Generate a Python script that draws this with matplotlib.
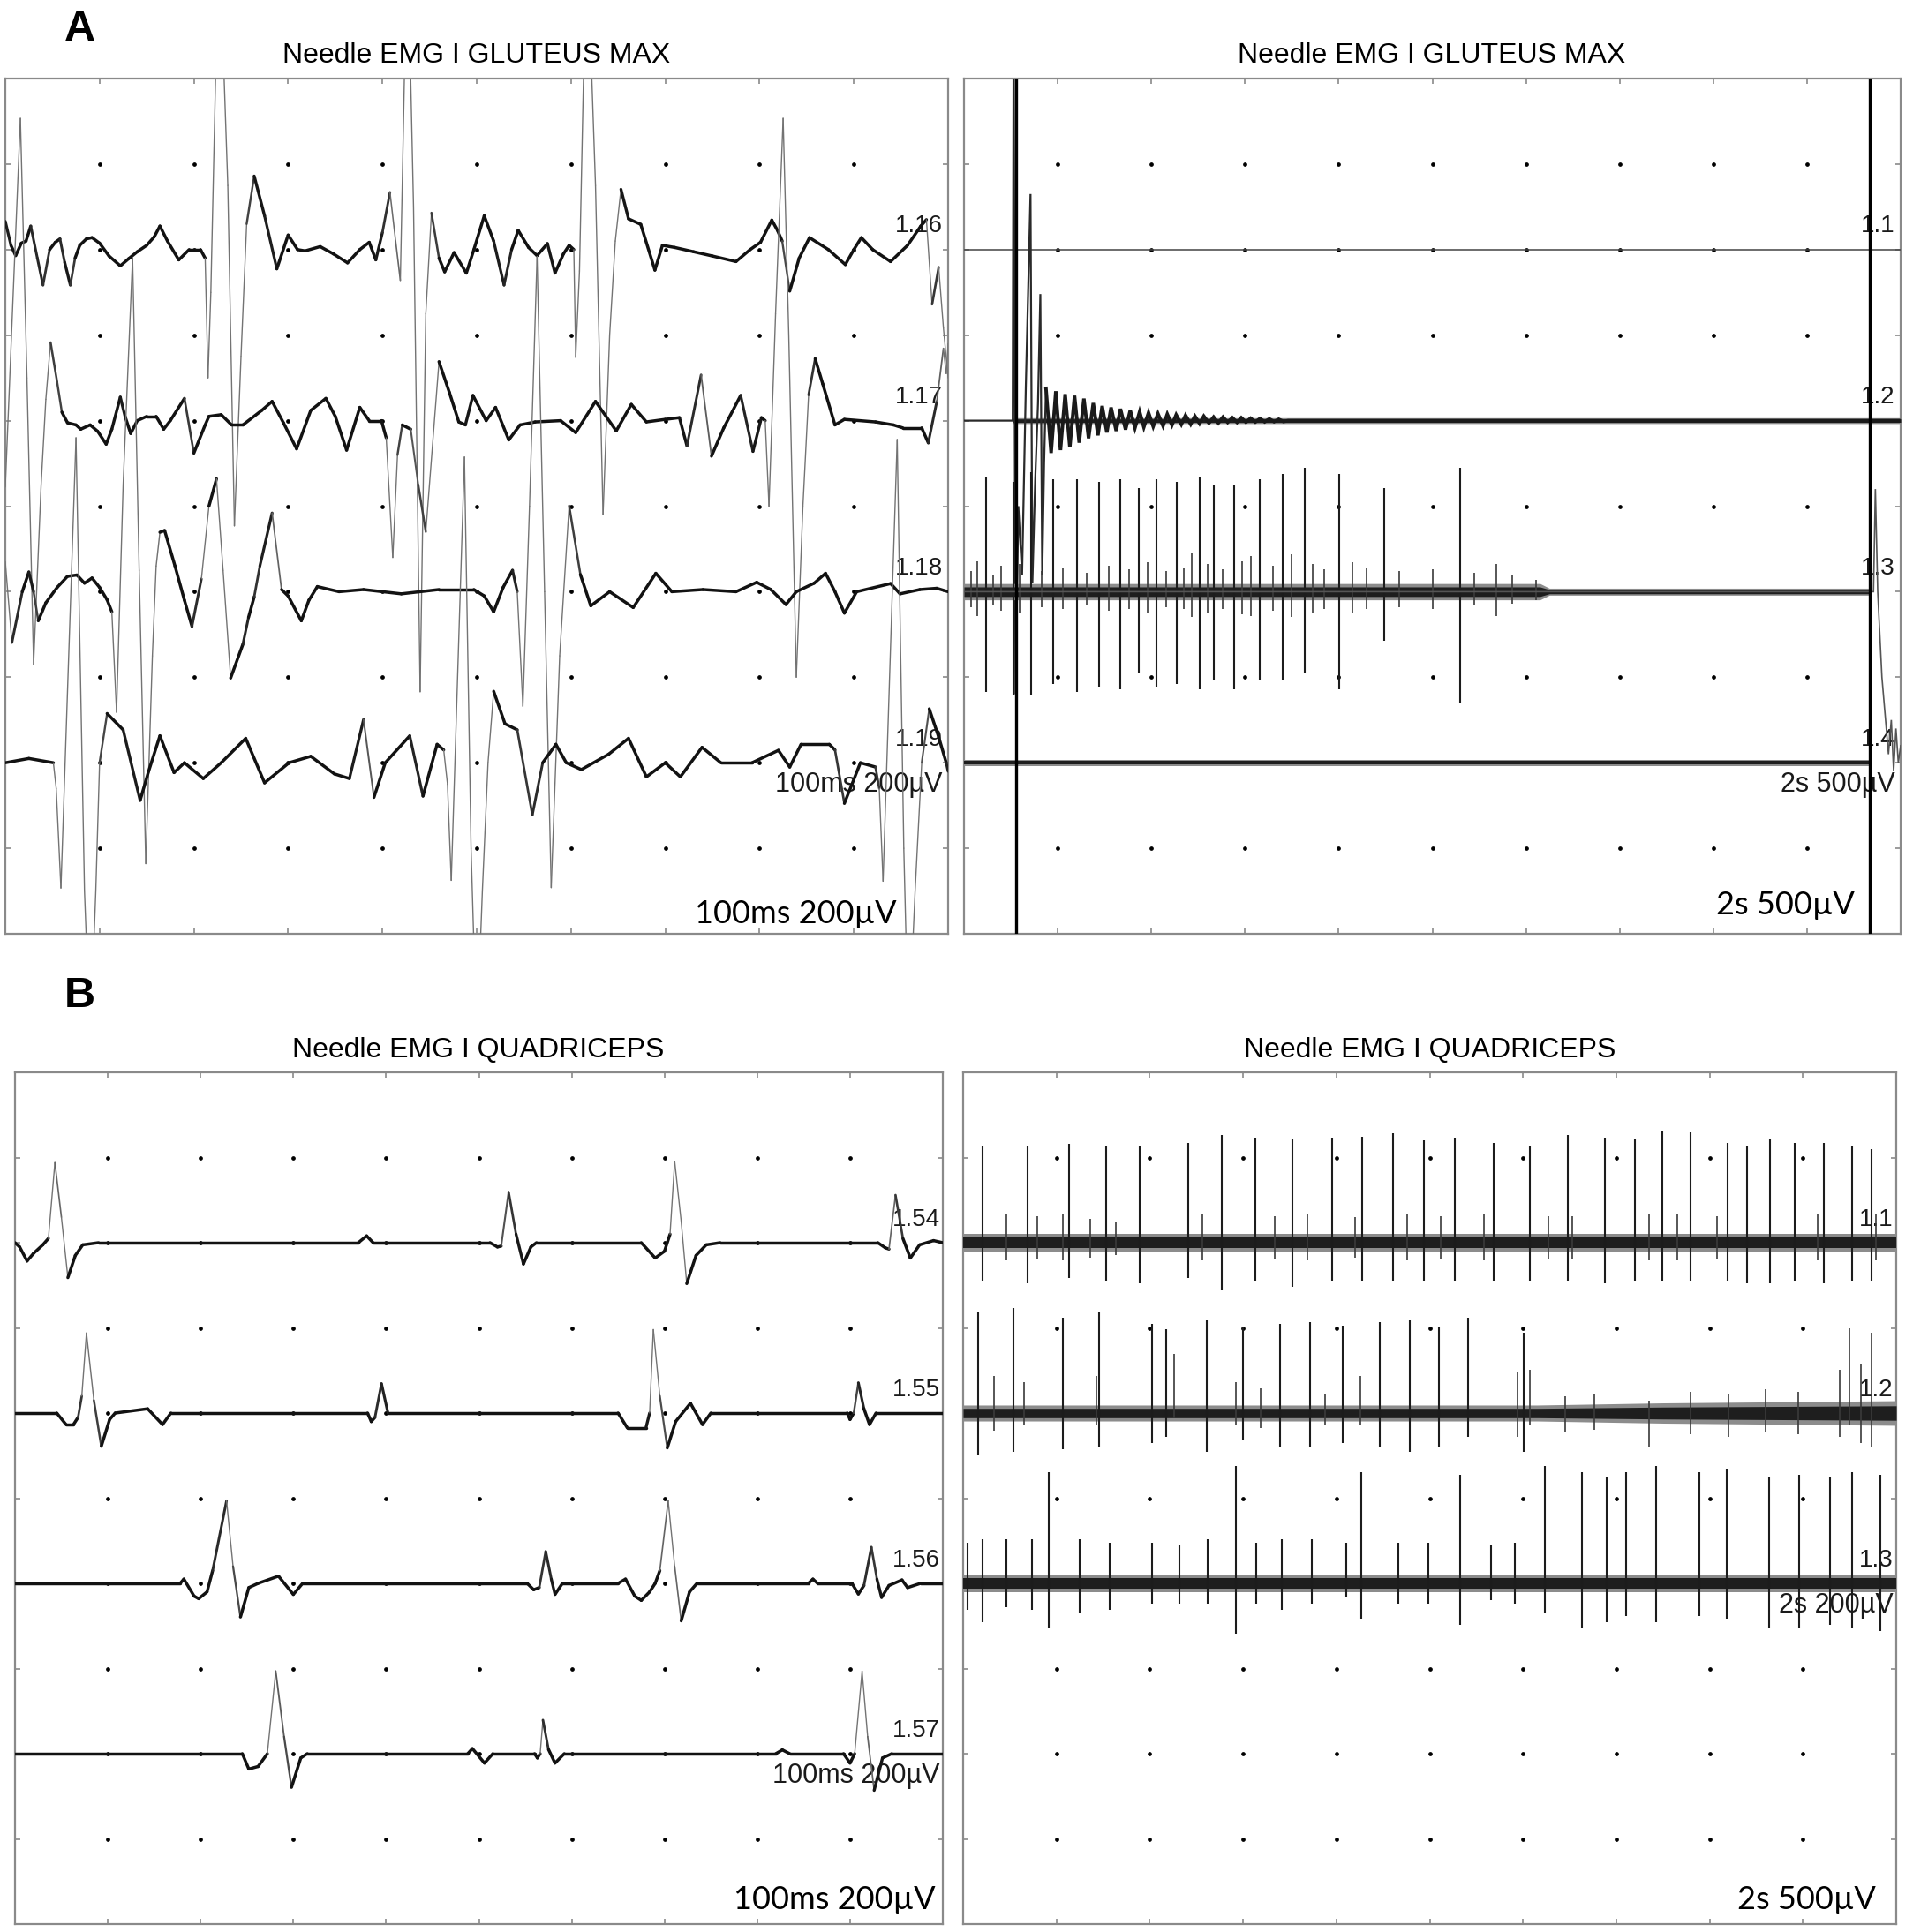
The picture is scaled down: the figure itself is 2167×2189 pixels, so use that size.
import numpy as np
import matplotlib.pyplot as plt
from matplotlib.collections import LineCollection

plt.rcParams["font.family"] = ["Liberation Sans", "DejaVu Sans"]

W, H = 2167, 2189  # output size in pixels

# ---------------- A left: gluteus max, 100 ms/div, 200 uV/div ----------------
# (time ms, amplitude uV) read off each sweep
T116 = [(0, 66), (6, 10), (11, -14), (17, 15), (22, 20), (27, 55), (34, -20), (40, -83), (47, 0), (53, 17),
        (58, 25), (63, -30), (69, -83), (74, -20), (79, 10), (86, 25), (92, 28), (100, 15), (110, -15), (122, -38),
        (131, -21), (140, -5), (150, 10), (158, 30), (164, 55), (172, 20), (184, -24), (195, 0), (207, 0), (212, -20),
        (215, -300), (218, -100), (224, 500), (229, 600), (236, 150), (243, -646), (250, -250), (256, 60), (264, 172),
        (275, 79), (288, -45), (300, 34), (310, 0), (318, -3), (334, 7), (348, -10), (363, -31), (376, 0), (386, 17),
        (393, -24), (400, 40), (408, 134), (414, 20), (419, -72), (424, 480), (428, 600), (433, 100), (440, -1034),
        (446, -150), (452, 86), (460, -20), (466, -52), (476, -7), (489, -55), (497, 0), (508, 79), (518, 20),
        (529, -83), (537, 0), (544, 45), (555, 5), (564, -14), (575, 14), (583, -55), (592, -10), (598, 10), (603, 0),
        (605, -252), (609, -50), (614, 480), (619, 600), (626, 150), (634, -620), (641, -200), (647, 20), (653, 141),
        (661, 72), (674, 59), (689, -48), (697, 10), (710, 5), (730, -5), (750, -15), (775, -28), (790, 0), (801, 17),
        (813, 69), (819, 45), (824, 20), (832, -97), (842, -20), (853, 28), (873, 0), (891, -35), (900, 0), (908, 28),
        (920, 0), (939, -28), (957, 10), (971, 55), (977, 70), (983, -128), (990, -41), (995, -183), (1000, -300)]
T117 = [(0, -155), (16, 707), (23, 100), (30, -570), (38, -150), (43, 50), (48, 183), (55, 90), (60, 20), (66, -5),
        (75, -10), (80, -20), (90, -10), (98, -25), (107, -55), (113, -20), (122, 55), (127, 10), (133, -30), (140, 0),
        (150, 10), (160, 10), (168, -20), (175, 0), (190, 52), (200, -76), (212, -10), (216, 10), (229, 14),
        (240, -10), (252, -10), (272, 24), (283, 45), (295, -5), (309, -66), (324, 24), (340, 52), (350, 10),
        (362, -69), (376, 31), (386, 0), (399, 0), (404, -40), (411, -320), (416, -80), (421, -10), (430, -20),
        (438, -150), (446, -260), (460, 138), (471, 66), (481, -3), (488, -10), (496, 59), (510, 0), (520, 31),
        (534, -45), (546, -10), (562, -3), (589, 0), (605, -28), (626, 45), (648, -24), (664, 38), (680, -3), (700, 3),
        (715, 7), (723, -59), (738, 107), (749, -83), (762, -17), (780, 59), (793, -72), (802, 7), (806, 0),
        (810, -200), (817, 250), (825, 707), (831, 200), (839, -600), (846, -200), (852, 60), (859, 145), (867, 86),
        (880, -10), (890, 3), (923, -3), (942, -10), (952, -17), (972, -17), (979, -52), (988, 45), (995, 169),
        (998, 110), (1000, 180)]
T118 = [(0, 70), (7, -119), (18, 0), (25, 46), (30, 0), (35, -68), (43, -26), (55, 10), (66, 36), (76, 39), (84, 20),
        (92, 32), (100, 10), (108, -19), (113, -47), (118, -282), (125, 250), (135, 782), (142, 50), (149, -636),
        (156, -150), (160, 60), (164, 139), (169, 143), (180, 60), (190, -20), (198, -81), (208, 30), (216, 200),
        (224, 264), (231, 50), (239, -202), (252, -123), (258, -60), (264, -12), (270, 60), (283, 184), (293, 5),
        (300, -10), (314, -68), (322, -20), (331, 12), (354, 0), (380, 5), (420, -5), (460, 5), (497, 5), (508, -10),
        (518, -47), (528, 10), (538, 50), (543, 0), (549, -268), (556, 200), (564, 784), (572, 0), (579, -692),
        (588, -150), (598, 201), (610, 40), (621, -33), (641, 0), (666, -37), (690, 43), (707, 0), (740, 5), (775, 0),
        (797, 22), (812, 5), (828, -30), (839, 0), (858, 20), (870, 43), (880, 0), (890, -50), (903, 0), (939, 19),
        (949, -5), (970, 5), (988, 8), (1000, 0)]
T119 = [(0, 0), (25, 10), (51, 0), (54, -60), (59, -293), (75, 760), (84, -300), (90, -650), (96, -300), (100, 0),
        (108, 115), (125, 77), (143, -88), (152, -20), (164, 63), (179, -23), (190, 0), (210, -37), (229, 0),
        (255, 57), (275, -47), (301, 0), (324, 15), (349, -26), (365, -37), (380, 101), (391, -81), (403, 0),
        (429, 63), (443, -78), (458, 43), (465, 30), (469, -50), (473, -275), (487, 715), (494, -200), (500, -650),
        (506, -300), (512, 0), (518, 167), (530, 91), (543, 77), (559, -122), (570, 0), (584, 43), (595, 0),
        (611, -16), (640, 20), (661, 57), (680, -33), (700, 0), (716, -33), (739, 36), (759, 0), (792, 0), (820, 29),
        (832, -10), (844, 43), (874, 43), (880, 30), (890, -95), (907, 0), (923, -10), (927, -60), (931, -277),
        (946, 756), (953, -200), (958, -650), (965, -300), (972, 0), (980, 126), (990, 60), (998, 0), (1000, -20)]

# ---------------- A right: gluteus max, 2 s sweep, 500 uV/div ----------------
G11 = [(0, 0), (2000, 0)]
G12_ARTIFACT = [(0, 0), (104, 0), (106, 2400), (110, -1600), (116, -500), (124, -900), (132, 200), (142, 1325),
                (146, -950), (152, -350), (158, 100), (163, 740), (167, -900), (171, -250), (175, 189)]
G12_RING = [(175, 189), (186, -189), (196, 172), (206, -172), (216, 155), (226, -155), (236, 146), (246, -129),
            (256, 129), (266, -103), (276, 103), (286, -86), (295, 86), (305, -69), (314, 77), (325, -60), (334, 69),
            (345, -52), (355, 60), (365, -43), (375, 52), (384, -38), (394, 46), (404, -34), (414, 41), (425, -31),
            (434, 38), (444, -26), (453, 34), (464, -22), (473, 31), (484, -21), (493, 26), (503, -17), (512, 26),
            (523, -14), (533, 21), (543, -14), (553, 21), (563, -10), (573, 17), (583, -10), (592, 17), (602, -9),
            (612, 14), (622, -8), (632, 12), (642, -7), (652, 10), (662, -6), (672, 8), (682, -5), (692, 0), (2000, 0)]
G13 = [(0, 0), (1938, 0), (1942, 0), (1946, 600), (1951, 0), (1960, -500), (1974, -950), (1980, -750), (1985, -1050),
       (1990, -800), (1995, -1000), (2000, -900)]
G12_NOISE = [(0, 0), (104, 0), (105, 10), (2000, 10)]
G13_NOISE = [(0, 28), (1230, 28), (1250, 12), (1938, 12)]
G14_NOISE = [(0, 11), (1935, 11)]
G13_SPIKE_MS = [47, 105, 144, 191, 241, 288, 334, 374, 410, 455, 504, 534, 577, 631, 681, 728, 802, 898, 1060]
G13_SPIKE_UP = [674, 641, 700, 657, 657, 641, 657, 608, 657, 641, 674, 624, 624, 657, 690, 724, 690, 608, 724]
G13_SPIKE_DN = [588, 604, 604, 538, 588, 554, 571, 471, 554, 538, 571, 521, 571, 521, 521, 471, 571, 289, 654]
G13_SMALL_MS = [15, 28, 62, 80, 118, 165, 212, 262, 310, 352, 392, 432, 470, 487, 520, 552, 594, 612, 660, 700,
                745, 770, 830, 860, 930, 1000, 1090, 1136, 1170, 1222]
G13_SMALL_UP = [120, 180, 100, 150, 160, 120, 140, 110, 150, 130, 170, 120, 140, 224, 160, 130, 180, 206, 150, 220,
                160, 130, 170, 140, 120, 130, 110, 160, 100, 70]
G13_SMALL_DN = [90, 140, 80, 110, 120, 90, 100, 80, 110, 100, 120, 90, 100, 150, 120, 100, 130, 140, 110, 150,
                120, 100, 120, 100, 90, 100, 80, 140, 70, 50]
CURSOR_MS = [111, 1934]

# ---------------- B left: quadriceps, 100 ms/div, 200 uV/div ----------------
Q154 = [(0, 0), (5, -10), (13, -43), (20, -25), (30, -5), (36, 10), (43, 188), (50, 60), (57, -82), (65, -30),
        (73, -5), (90, 0), (370, 0), (379, 16), (386, 0), (512, 0), (520, -10), (524, -8), (532, 119), (540, 20),
        (548, -50), (556, -10), (562, 0), (675, 0), (690, -36), (700, -20), (706, 20), (711, 191), (718, 50),
        (724, -96), (734, -30), (745, -5), (760, 0), (930, 0), (938, -12), (942, -15), (949, 112), (957, 10),
        (965, -36), (975, -5), (990, 5), (1000, 0)]
Q155 = [(0, 0), (45, 0), (55, -27), (63, -27), (68, -10), (72, 40), (77, 188), (85, 30), (93, -78), (102, -15),
        (108, 0), (143, 10), (159, -27), (168, 0), (380, 0), (384, -20), (388, -10), (395, 69), (402, 0), (650, 0),
        (660, -35), (680, -35), (684, 0), (688, 196), (695, 40), (703, -82), (712, -20), (728, 23), (741, -27),
        (750, 0), (897, 0), (900, -15), (904, 0), (909, 71), (915, 10), (921, -27), (928, 0), (1000, 0)]
Q156 = [(0, 0), (178, 0), (182, 10), (193, -30), (198, -36), (207, -20), (213, 30), (228, 194), (235, 40), (243, -79),
        (252, -10), (262, 0), (284, 17), (300, -26), (310, 0), (552, 0), (559, -15), (565, -10), (572, 75), (578, 10),
        (582, -26), (590, 0), (650, 0), (658, 10), (668, -30), (675, -40), (684, -20), (690, 0), (695, 30),
        (704, 194), (711, 40), (718, -88), (727, -20), (735, 0), (855, 0), (860, 10), (865, 0), (902, 0), (909, -25),
        (915, -5), (923, 85), (929, 10), (934, -33), (942, -5), (956, 8), (962, -10), (976, 0), (1000, 0)]
Q157 = [(0, 0), (245, 0), (252, -36), (262, -30), (272, 0), (281, 194), (290, 40), (298, -79), (308, -10), (315, 0),
        (488, 0), (493, 12), (506, -22), (515, 0), (560, 0), (563, -10), (566, 0), (569, 79), (575, 10), (582, -22),
        (592, 0), (820, 0), (827, 9), (835, 0), (893, 0), (900, -22), (905, 0), (913, 194), (919, 40), (926, -86),
        (935, -10), (945, 0), (1000, 0)]

# ---------------- B right: quadriceps, 2 s sweep, 200 uV/div ----------------
Q11_SPIKE_MS = [42, 138, 227, 306, 378, 483, 554, 626, 706, 790, 856, 922, 987, 1054, 1138, 1215, 1296, 1375, 1440,
                1499, 1559, 1639, 1681, 1729, 1783, 1845, 1906, 1947]
Q11_SPIKE_UP = [227, 227, 232, 227, 227, 235, 252, 246, 242, 246, 249, 256, 240, 246, 235, 227, 252, 246, 242, 263,
                260, 235, 227, 242, 235, 235, 227, 220]
Q11_SPIKE_DN = [89, 96, 82, 89, 96, 82, 111, 89, 104, 89, 89, 89, 89, 89, 89, 89, 89, 96, 89, 89, 89, 89, 96, 96,
                89, 96, 89, 89]
Q11_SMALL_MS = [92, 158, 213, 273, 328, 512, 667, 738, 840, 952, 1024, 1116, 1254, 1306, 1471, 1530, 1615, 1832, 1956]
Q11_SMALL_UP = [69, 62, 69, 55, 48, 69, 62, 69, 60, 69, 62, 69, 62, 62, 69, 69, 62, 69, 69]
Q11_SMALL_DN = [42, 38, 42, 35, 30, 42, 38, 42, 36, 42, 38, 42, 38, 38, 42, 42, 38, 42, 42]
Q12_SPIKE_MS = [33, 108, 213, 291, 404, 436, 523, 600, 679, 744, 814, 893, 958, 1020, 1083, 1201]
Q12_SPIKE_UP = [239, 246, 224, 239, 210, 196, 217, 203, 210, 214, 206, 214, 217, 203, 224, 189]
Q12_SPIKE_DN = [99, 92, 85, 78, 71, 56, 92, 63, 78, 78, 71, 78, 92, 78, 56, 92]
Q12_SMALL_MS = [66, 131, 286, 453, 584, 637, 775, 851, 1188, 1215, 1290, 1352, 1471, 1560, 1640, 1720, 1790, 1878,
                1900, 1924, 1947]
Q12_SMALL_UP = [88, 73, 88, 138, 73, 59, 45, 88, 95, 102, 40, 45, 30, 50, 45, 55, 50, 102, 200, 117, 189]
Q12_SMALL_DN = [42, 27, 27, 13, 27, 35, 27, 27, 56, 27, 45, 40, 78, 50, 55, 45, 50, 56, 27, 70, 78]
Q13_SPIKE_MS = [10, 42, 92, 147, 184, 249, 315, 404, 463, 525, 584, 628, 683, 748, 821, 853, 932, 998, 1066, 1132,
                1182, 1247, 1326, 1379, 1421, 1486, 1578, 1637, 1727, 1792, 1858, 1906, 1965]
Q13_SPIKE_UP = [96, 104, 104, 104, 262, 104, 96, 96, 89, 104, 276, 96, 104, 104, 96, 262, 96, 96, 255, 89, 96, 276,
                262, 248, 262, 276, 262, 269, 248, 255, 248, 262, 255]
Q13_SPIKE_DN = [62, 91, 55, 62, 105, 69, 62, 47, 47, 47, 119, 47, 62, 47, 33, 83, 47, 47, 98, 40, 47, 69, 105, 91,
                76, 91, 76, 83, 105, 105, 98, 105, 112]
Q11_NOISE = [(0, 12), (2000, 12)]
Q12_NOISE = [(0, 11), (1230, 11), (1500, 14), (2000, 17)]
Q13_NOISE = [(0, 12), (2000, 12)]


def fig_box(x0, y0, x1, y1):
    return [x0 / W, 1 - y1 / H, (x1 - x0) / W, (y1 - y0) / H]


def setup_panel(fig, box, ms_div, uv_div):
    ax = fig.add_axes(fig_box(*box))
    ax.set_xlim(0, 10 * ms_div)
    ax.set_ylim(0, 10 * uv_div)
    ax.set_xticks(np.arange(11) * ms_div)
    ax.set_yticks(np.arange(11) * uv_div)
    ax.tick_params(direction="in", length=4, width=1.2, color="#8a8a8a", top=True, right=True,
                   labelbottom=False, labelleft=False)
    for s in ax.spines.values():
        s.set_color("#8a8a8a")
        s.set_linewidth(1.6)
    gx, gy = np.meshgrid(np.arange(1, 10) * ms_div, np.arange(1, 10) * uv_div)
    ax.plot(gx.ravel(), gy.ravel(), ls="none", marker="o", ms=2.4, color="black", zorder=1)
    return ax


def draw_sweep(ax, pts, offset, ms_div, uv_div):
    # slow parts thick and dark, steep parts thin and grey, like the scope trace
    x = np.array([p[0] for p in pts], float)
    y = np.array([p[1] for p in pts], float) + offset
    segs = np.stack([np.column_stack([x[:-1], y[:-1]]), np.column_stack([x[1:], y[1:]])], axis=1)
    slope = np.abs(np.diff(y) / uv_div) / np.maximum(np.diff(x) / ms_div, 1e-6)
    w = np.clip((slope - 4.0) / 6.0, 0, 1)
    g = 0.07 + 0.38 * w
    lc = LineCollection(segs, linewidths=2.5 - 1.5 * w, colors=np.column_stack([g, g, g]),
                        capstyle="round", joinstyle="round", zorder=3)
    ax.add_collection(lc)


def draw_band(ax, noise, offset, color="#1e1e1e"):
    # dense noisy baseline: dark core with a softer grey fringe
    x = [p[0] for p in noise]
    n = np.array([p[1] for p in noise], float)
    ax.fill_between(x, offset - 1.7 * n, offset + 1.7 * n, color="#8c8c8c", lw=0, zorder=3)
    ax.fill_between(x, offset - n, offset + n, color=color, lw=0, zorder=3)


def draw_line(ax, pts, offset, lw=1.2, color="#222222"):
    ax.plot([p[0] for p in pts], [p[1] + offset for p in pts], lw=lw, color=color, zorder=3,
            solid_joinstyle="miter")


def draw_spikes(ax, ms, up, dn, offset, lw=1.5, color="#1c1c1c"):
    ax.vlines(ms, offset - np.array(dn, float), offset + np.array(up, float), lw=lw, color=color, zorder=3)


def trace_label(ax, text, offset, uv_div, pad=0.006):
    ax.text(1 - pad, offset + 0.2 * uv_div, text, transform=ax.get_yaxis_transform(),
            ha="right", va="baseline", fontsize=20, color="#1a1a1a", zorder=2)


def scale_small(ax, text, offset, uv_div, pad=0.006):
    ax.text(1 - pad, offset - 0.1 * uv_div, text, transform=ax.get_yaxis_transform(),
            ha="right", va="top", fontsize=22, color="#1a1a1a", zorder=2)


def scale_big(ax, text, xf, yf):
    ax.text(xf, yf, text, transform=ax.transAxes, ha="right", va="baseline", fontsize=26,
            family=["Lato", "DejaVu Sans"], color="black", zorder=5)


fig = plt.figure(figsize=(W / 100, H / 100), dpi=100)

# panel letters and titles
fig.text(73 / W, 1 - 46 / H, "A", fontsize=35, fontweight="bold", va="baseline")
fig.text(73 / W, 1 - 1141 / H, "B", fontsize=35, fontweight="bold", va="baseline")
fig.text(540 / W, 1 - 63 / H, "Needle EMG I GLUTEUS MAX", ha="center", va="center", fontsize=23)
fig.text(1622 / W, 1 - 63 / H, "Needle EMG I GLUTEUS MAX", ha="center", va="center", fontsize=23)
fig.text(542 / W, 1 - 1190 / H, "Needle EMG I QUADRICEPS", ha="center", va="center", fontsize=23)
fig.text(1620 / W, 1 - 1190 / H, "Needle EMG I QUADRICEPS", ha="center", va="center", fontsize=23)

# A left
ax = setup_panel(fig, (6, 89, 1074, 1058), 100, 200)
for pts, name, row in [(T116, "1.16", 8), (T117, "1.17", 6), (T118, "1.18", 4), (T119, "1.19", 2)]:
    trace_label(ax, name, row * 200, 200)
    draw_sweep(ax, pts, row * 200, 100, 200)
scale_small(ax, "100ms 200\u00b5V", 400, 200)
scale_big(ax, "100ms 200\u00b5V", 0.945, 0.012)

# A right
ax = setup_panel(fig, (1092, 89, 2153, 1058), 200, 500)
for name, row in [("1.1", 8), ("1.2", 6), ("1.3", 4), ("1.4", 2)]:
    trace_label(ax, name, row * 500, 500)
draw_line(ax, G11, 4000, lw=1.1, color="#444444")
draw_band(ax, G12_NOISE, 3000)
draw_line(ax, G12_ARTIFACT, 3000, lw=1.6, color="#2a2a2a")
draw_line(ax, G12_RING, 3000, lw=2.8, color="#1a1a1a")
draw_band(ax, G14_NOISE, 1000)
draw_band(ax, G13_NOISE, 2000)
draw_spikes(ax, G13_SMALL_MS, G13_SMALL_UP, G13_SMALL_DN, 2000, lw=1.2, color="#3a3a3a")
draw_spikes(ax, G13_SPIKE_MS, G13_SPIKE_UP, G13_SPIKE_DN, 2000)
draw_line(ax, G13, 2000, lw=1.2, color="#555555")
for t in CURSOR_MS:
    ax.axvline(t, color="black", lw=2.4, zorder=4)
scale_small(ax, "2s 500\u00b5V", 1000, 500)
scale_big(ax, "2s 500\u00b5V", 0.951, 0.023)

# B left
ax = setup_panel(fig, (17, 1215, 1068, 2180), 100, 200)
for pts, name, row in [(Q154, "1.54", 8), (Q155, "1.55", 6), (Q156, "1.56", 4), (Q157, "1.57", 2)]:
    trace_label(ax, name, row * 200, 200, pad=0.003)
    draw_sweep(ax, pts, row * 200, 100, 200)
scale_small(ax, "100ms 200\u00b5V", 400, 200, pad=0.003)
scale_big(ax, "100ms 200\u00b5V", 0.992, 0.018)

# B right
ax = setup_panel(fig, (1091, 1215, 2148, 2180), 200, 200)
for name, row in [("1.1", 8), ("1.2", 6), ("1.3", 4)]:
    trace_label(ax, name, row * 200, 200, pad=0.003)
draw_band(ax, Q11_NOISE, 1600)
draw_spikes(ax, Q11_SMALL_MS, Q11_SMALL_UP, Q11_SMALL_DN, 1600, lw=1.2, color="#3a3a3a")
draw_spikes(ax, Q11_SPIKE_MS, Q11_SPIKE_UP, Q11_SPIKE_DN, 1600)
draw_band(ax, Q12_NOISE, 1200)
draw_spikes(ax, Q12_SMALL_MS, Q12_SMALL_UP, Q12_SMALL_DN, 1200, lw=1.2, color="#3a3a3a")
draw_spikes(ax, Q12_SPIKE_MS, Q12_SPIKE_UP, Q12_SPIKE_DN, 1200)
draw_band(ax, Q13_NOISE, 800)
draw_spikes(ax, Q13_SPIKE_MS, Q13_SPIKE_UP, Q13_SPIKE_DN, 800)
scale_small(ax, "2s 200\u00b5V", 800, 200, pad=0.003)
scale_big(ax, "2s 500\u00b5V", 0.978, 0.018)

fig.savefig("out.png", dpi=100)
